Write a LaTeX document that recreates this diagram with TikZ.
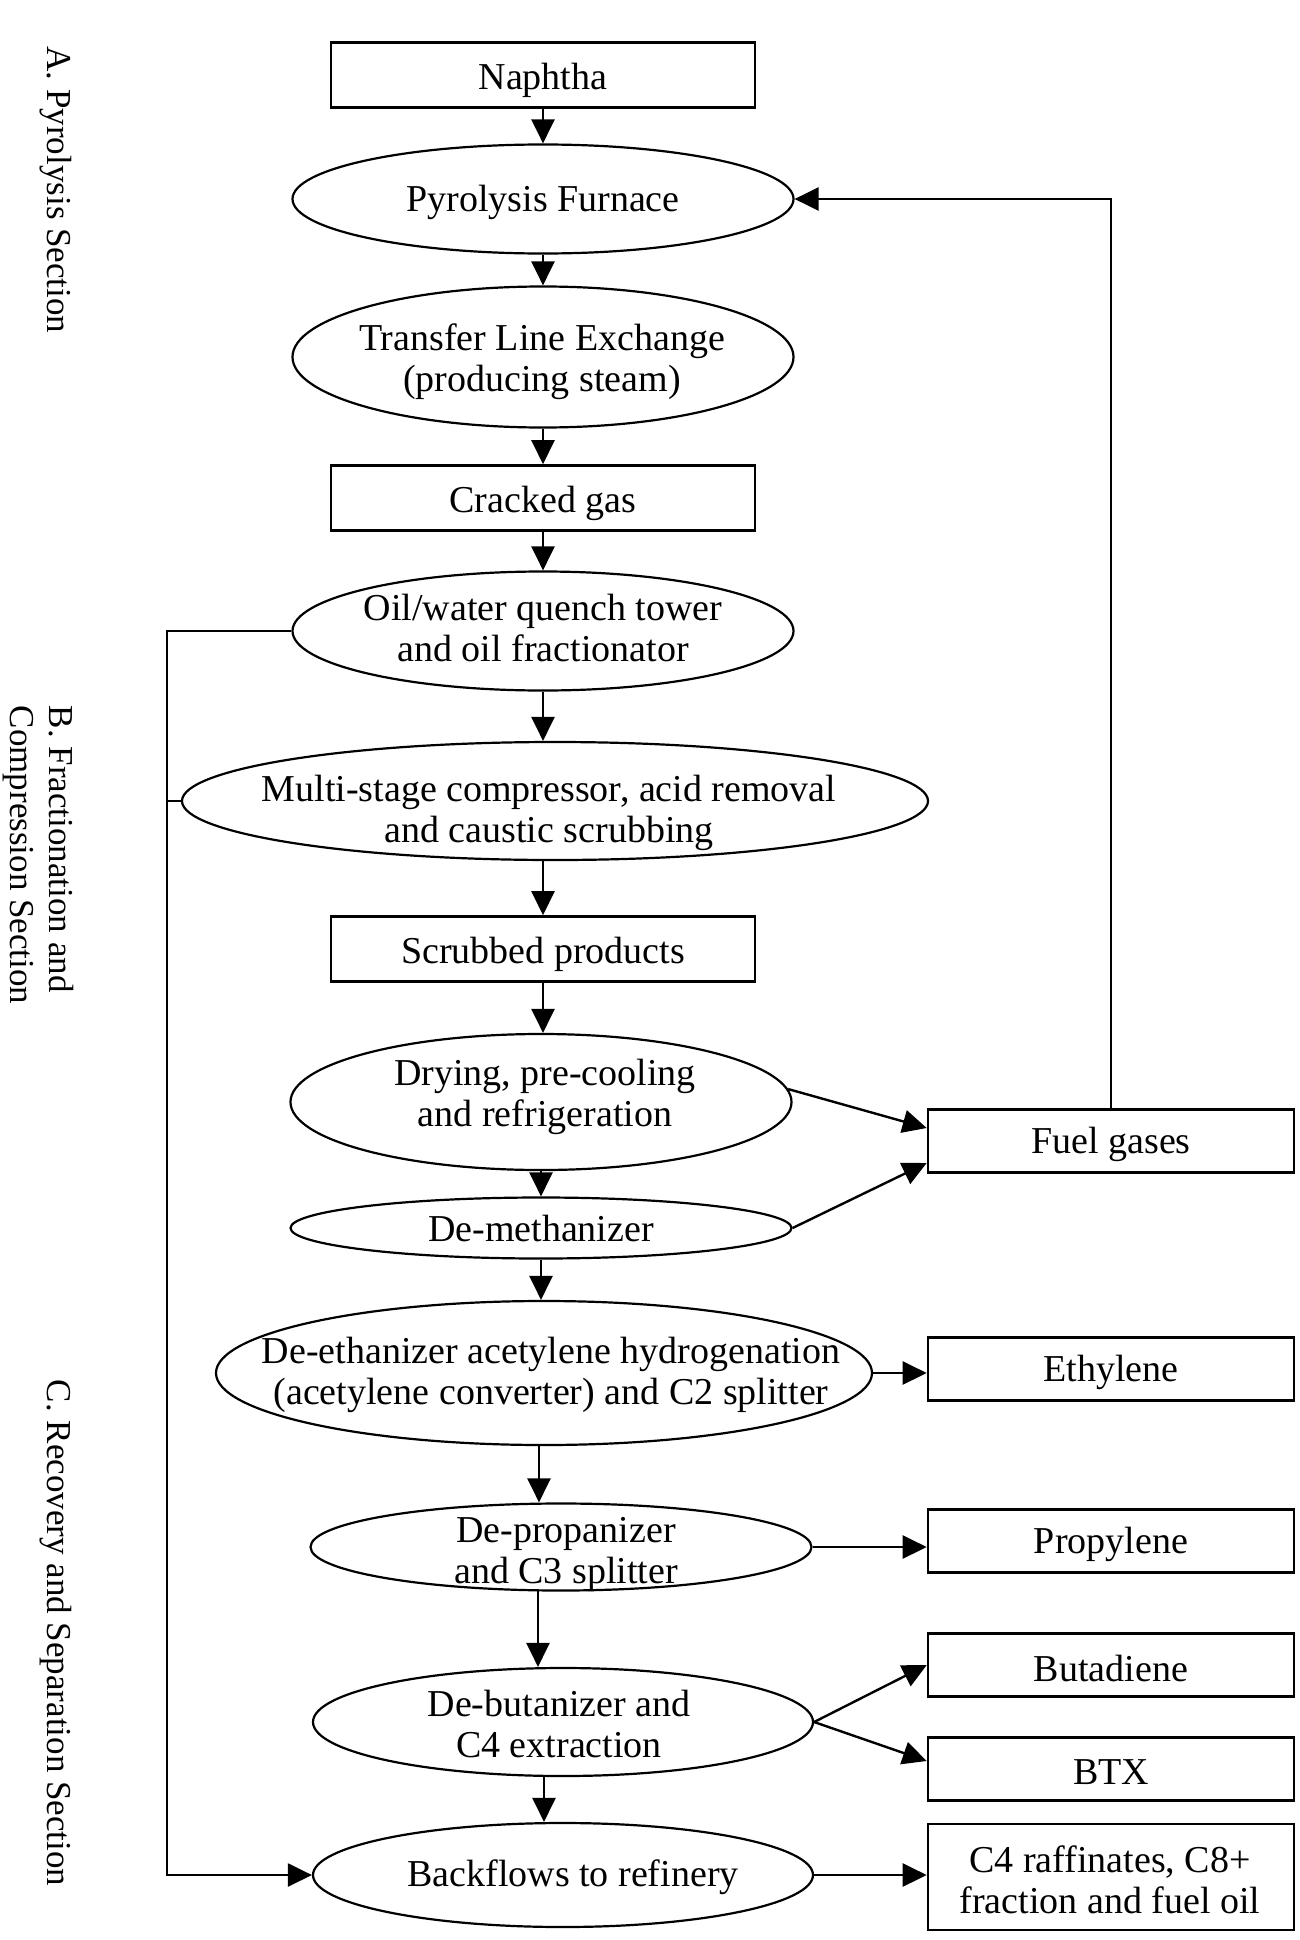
\documentclass[tikz,border=0pt]{standalone}
\usepackage{fontspec}
\setmainfont{Liberation Serif}
\usetikzlibrary{shapes.geometric,arrows.meta,calc}
\newcommand{\mainfs}{\fontsize{38}{41}\selectfont}
\newcommand{\secfs}{\fontsize{35}{39}\selectfont}
\begin{document}
\begin{tikzpicture}[x=1pt,y=-1pt,
  box/.style={draw, line width=2.6pt, rectangle, minimum width=424pt, minimum height=65pt, inner sep=0pt},
  rbox/.style={draw, line width=2.6pt, rectangle, minimum width=366pt, minimum height=63pt, inner sep=0pt},
  ell/.style={draw, line width=2.2pt, ellipse, inner sep=0pt},
  txt/.style={align=center, font=\mainfs, inner sep=0pt},
  arr/.style={line width=2.4pt, -{Triangle[length=24pt,width=23pt]}},
  ln/.style={line width=2.4pt},
  sec/.style={rotate=-90, font=\secfs, align=left, inner sep=0pt}]
\useasboundingbox (0,0) rectangle (1300,1940);

% section labels
\node[sec] (secA) at (56,190) {A. Pyrolysis Section};
\node[sec] (secB) at (38,855) {B. Fractionation and\\Compression Section};
\node[sec] (secC) at (56,1633) {C. Recovery and Separation Section};

% main column
\node[box] (nap) at (543,75) {};
\node[txt] (napt) at (543,80) {Naphtha};
\node[ell, minimum width=501pt, minimum height=109pt] (pf) at (543,199) {};
\node[txt] (pft) at (543,202) {Pyrolysis Furnace};
\node[ell, minimum width=501pt, minimum height=141pt] (tle) at (543,357) {};
\node[txt] (tlet) at (542,362) {Transfer Line Exchange\\(producing steam)};
\node[box] (cg) at (543,498) {};
\node[txt] (cgt) at (543,503) {Cracked gas};
\node[ell, minimum width=501pt, minimum height=119pt] (ow) at (543,631) {};
\node[txt] (owt) at (543,628) {Oil/water quench tower\\and oil fractionator};
\node[ell, minimum width=746pt, minimum height=118pt] (ms) at (555,801) {};
\node[txt] (mst) at (549,813) {Multi-stage compressor, acid removal\\and caustic scrubbing};
\node[box] (sp) at (543,949) {};
\node[txt] (spt) at (543,954) {Scrubbed products};
\node[ell, minimum width=501pt, minimum height=136pt] (dr) at (541,1102) {};
\node[txt] (drt) at (545,1097) {Drying, pre-cooling\\and refrigeration};
\node[ell, minimum width=501pt, minimum height=61pt] (dm) at (541,1228) {};
\node[txt] (dmt) at (541,1228) {De-methanizer};
\node[ell, minimum width=656pt, minimum height=144pt] (de) at (544,1373) {};
\node[txt] (det) at (551,1375) {De-ethanizer acetylene hydrogenation\\(acetylene converter) and C2 splitter};
\node[ell, minimum width=501pt, minimum height=87pt] (dp) at (561,1547) {};
\node[txt] (dpt) at (566,1554) {De-propanizer\\and C3 splitter};
\node[ell, minimum width=500pt, minimum height=108pt] (db) at (563,1722) {};
\node[txt] (dbt) at (559,1724) {De-butanizer and\\C4 extraction};
\node[ell, minimum width=500pt, minimum height=104pt] (bf) at (563,1875) {};
\node[txt] (bft) at (573,1877) {Backflows to refinery};

% right column
\node[rbox] (fg) at (1111,1141) {};
\node[txt] (fgt) at (1111,1144) {Fuel gases};
\node[rbox] (eth) at (1111,1369) {};
\node[txt] (etht) at (1111,1372) {Ethylene};
\node[rbox] (prop) at (1111,1541) {};
\node[txt] (propt) at (1111,1544) {Propylene};
\node[rbox] (but) at (1111,1665) {};
\node[txt] (butt) at (1111,1668) {Butadiene};
\node[rbox] (btx) at (1111,1769) {};
\node[txt] (btxt) at (1111,1772) {BTX};
\node[rbox, minimum height=106pt] (c4) at (1111,1877) {};
\node[txt] (c4t) at (1110,1880) {C4 raffinates, C8+\\fraction and fuel oil};

\coordinate (lx) at (167,0);

% main flow
\draw[arr] (nap) -- (pf);
\draw[arr] (pf) -- (tle);
\draw[arr] (tle) -- (cg);
\draw[arr] (cg) -- (ow);
\draw[arr] (ow.south) -- (ow.south |- ms.north);
\draw[arr] (ms.south -| sp.north) -- (sp.north);
\draw[arr] (sp.south) -- (sp.south |- dr.north);
\draw[arr] (dr) -- (dm);
\draw[arr] (dm.south) -- (dm.south |- de.north);
\draw[arr] (539,1445) coordinate (deS) -- (deS |- dp.north);
\draw[arr] (538,1591) coordinate (dpS) -- (dpS |- db.north);
\draw[arr] (544,1776) coordinate (dbS) -- (dbS |- bf.north);

% side flows
\draw[arr] (dr.3) -- ($(fg.west)+(0,-13)$);
\draw[arr] (dm.east) -- ($(fg.west)+(0,22)$);
\draw[arr] (de.east) -- (de.east -| eth.west);
\draw[arr] (dp.east) -- (dp.east -| prop.west);
\draw[arr] (db.east) -- (but.west);
\draw[arr] (db.east) -- ($(btx.west)+(0,-8)$);
\draw[arr] (bf.east) -- (bf.east -| c4.west);

% recycle of fuel gases
\draw[arr] (fg.north) |- (pf.east);

% backflows loop
\draw[arr] (ow.west) -- (ow.west -| lx) |- (bf.west);
\draw[ln] (ms.west) -- (ms.west -| lx);
\end{tikzpicture}
\end{document}
